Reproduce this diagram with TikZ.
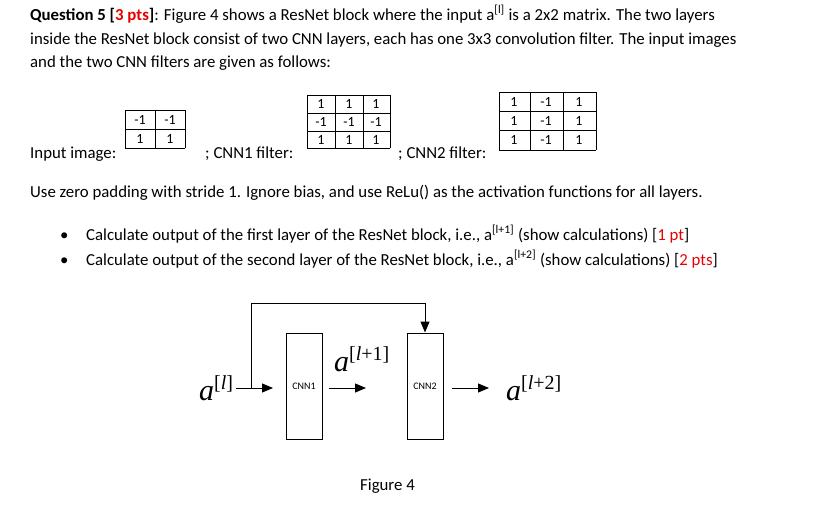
\documentclass[tikz,border=0pt]{standalone}
\usepackage{fontspec}
\setmainfont{Carlito}
\newfontfamily\mfont{Liberation Serif}
\usetikzlibrary{arrows.meta}
\definecolor{qred}{RGB}{230,0,0}
\newcommand{\actv}[1]{{\mfont\fontsize{30}{32}\selectfont\itshape a\raisebox{11pt}{\fontsize{20}{22}\selectfont\upshape[\textit{l}#1]}}}
\begin{document}
\begin{tikzpicture}[x=1pt,y=-1pt,
  txt/.style={anchor=base west,inner sep=0pt,font=\fontsize{16.8}{19}\selectfont},
  cell/.style={font=\fontsize{14}{16}\selectfont},
  blk/.style={draw,line width=1pt,minimum width=36pt,minimum height=106pt,inner sep=0pt,font=\fontsize{10}{11}\selectfont},
  arr/.style={line width=1pt,-{Triangle[length=11pt,width=9pt]}},
  mth/.style={inner sep=0pt}]
\useasboundingbox (0,0) rectangle (834,525);
\node[txt] (l1) at (30,20) {\textbf{Question 5 [}\textbf{\textcolor{qred}{3 pts}}\textbf{]}: Figure 4 shows a ResNet block where the input a\textsuperscript{[l]} is a 2x2 matrix. The two layers};
\node[txt] (l2) at (30,44) {inside the ResNet block consist of two CNN layers, each has one 3x3 convolution filter. The input images};
\node[txt] (l3) at (30,67) {and the two CNN filters are given as follows:};
\node[txt] (ii) at (30,158) {Input image:};
\node[txt] (c1) at (205,158) {; CNN1 filter:};
\node[txt] (c2) at (398,158) {; CNN2 filter:};
% input matrix
\foreach \y in {110,129,148} \draw (125,\y) -- (185,\y);
\foreach \x in {125,155,185} \draw (\x,110) -- (\x,148);
\foreach \v [count=\i from 0] in {-1,-1} \node[cell] (ia\i) at (140+30*\i,120) {\v};
\foreach \v [count=\i from 0] in {1,1} \node[cell] (ib\i) at (140+30*\i,139) {\v};
% CNN1 matrix
\foreach \y in {95,113,131,148} \draw (307,\y) -- (390,\y);
\foreach \x in {307,335,363,390} \draw (\x,95) -- (\x,148);
\foreach \r/\yy in {0/104,1/122,2/140}{
  \foreach \c/\xx in {0/321,1/349,2/376}{
    \node[cell] (f\r\c) at (\xx,\yy) {\ifnum\r=1 -1\else 1\fi};
  }}
% CNN2 matrix
\foreach \y in {92,111,130,150} \draw (499,\y) -- (596,\y);
\foreach \x in {499,530,563,596} \draw (\x,92) -- (\x,150);
\foreach \r/\yy in {0/102,1/121,2/140}{
  \foreach \c/\xx in {0/514,1/546,2/579}{
    \node[cell] (g\r\c) at (\xx,\yy) {\ifnum\c=1 -1\else 1\fi};
  }}
\node[txt] (l4) at (30,197) {Use zero padding with stride 1. Ignore bias, and use ReLu() as the activation functions for all layers.};
\node[txt] (b1) at (60,240) {\textbullet};
\node[txt] (b2) at (60,265) {\textbullet};
\node[txt] (t1) at (86,240) {Calculate output of the first layer of the ResNet block, i.e., a\textsuperscript{[l+1]} (show calculations) [\textcolor{qred}{1 pt}]};
\node[txt] (t2) at (86,265) {Calculate output of the second layer of the ResNet block, i.e., a\textsuperscript{[l+2]} (show calculations) [\textcolor{qred}{2 pts}]};
% diagram
\node[blk] (n1) at (304,386) {CNN1};
\node[blk] (n2) at (425,386) {CNN2};
\node[mth,anchor=base west] (al) at (199,400) {\actv{}};
\node[mth,anchor=base west] (al1) at (334,371) {\actv{+1}};
\node[mth,anchor=base west] (al2) at (506,400) {\actv{+2}};
\coordinate (s) at (236,388);
\coordinate (j) at (251,388);
\coordinate (tl) at (251,303);
\coordinate (tr) at (n2.north |- tl);
\coordinate (m1) at (329,388);
\coordinate (m2) at (366,388);
\coordinate (o1) at (452,388);
\coordinate (o2) at (489,388);
\draw[arr] (s) -- (273,388);
\draw[arr] (j) -- (tl) -- (tr) -- (n2.north);
\draw[arr] (m1) -- (m2);
\draw[arr] (o1) -- (o2);
\node[txt] (fig) at (360,490) {Figure 4};
\end{tikzpicture}
\end{document}
